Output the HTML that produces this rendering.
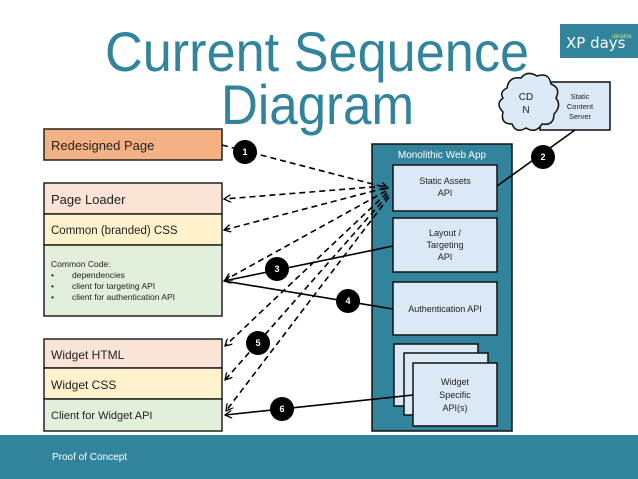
<!DOCTYPE html>
<html><head><meta charset="utf-8"><style>body{margin:0;width:638px;height:479px;overflow:hidden;background:#fff}svg{display:block}</style></head><body>
<svg width="638" height="479" viewBox="0 0 638 479" xmlns="http://www.w3.org/2000/svg" font-family="Liberation Sans, sans-serif">
<defs><marker id="a" markerWidth="8" markerHeight="8" refX="7" refY="4" orient="auto" markerUnits="userSpaceOnUse"><path d="M0,0 L7,4 L0,8" fill="none" stroke="#000" stroke-width="1.3"/></marker></defs>
<text x="105" y="71" font-size="56" fill="#31849b" textLength="424" lengthAdjust="spacingAndGlyphs">Current Sequence</text>
<text x="221" y="124" font-size="56" fill="#31849b" textLength="193" lengthAdjust="spacingAndGlyphs">Diagram</text>
<rect x="560" y="24" width="78" height="34" fill="#31849b"/>
<text x="566" y="48" font-size="15" fill="#fff" font-family="DejaVu Sans, sans-serif">XP days</text>
<text x="612" y="38" font-size="6" fill="#cfe27a">ukraine</text>
<rect x="44" y="129" width="178" height="31" fill="#f4b183" stroke="#222" stroke-width="1.5"/>
<text x="51" y="150" font-size="13" fill="#222">Redesigned Page</text>
<rect x="44" y="183" width="178" height="31" fill="#fbe3d6" stroke="#222" stroke-width="1.5"/>
<text x="51" y="204" font-size="13" fill="#222">Page Loader</text>
<rect x="44" y="214" width="178" height="31" fill="#fff2cc" stroke="#222" stroke-width="1.5"/>
<text x="51" y="234" font-size="11.5" fill="#222">Common (branded) CSS</text>
<rect x="44" y="245" width="178" height="71" fill="#e2efda" stroke="#222" stroke-width="1.5"/>
<g font-size="8.5" fill="#222"><text x="51" y="267">Common Code:</text><text x="51" y="278">•</text><text x="72" y="278">dependencies</text><text x="51" y="289">•</text><text x="72" y="289">client for targeting API</text><text x="51" y="300">•</text><text x="72" y="300">client for authentication API</text></g>
<rect x="44" y="339" width="178" height="29" fill="#fbe3d6" stroke="#222" stroke-width="1.5"/>
<text x="51" y="359" font-size="12" fill="#222">Widget HTML</text>
<rect x="44" y="368" width="178" height="31" fill="#fff2cc" stroke="#222" stroke-width="1.5"/>
<text x="51" y="389" font-size="12" fill="#222">Widget CSS</text>
<rect x="44" y="399" width="178" height="32" fill="#e2efda" stroke="#222" stroke-width="1.5"/>
<text x="51" y="419" font-size="11" fill="#222">Client for Widget API</text>
<rect x="372" y="144" width="140" height="287" fill="#31849b" stroke="#111" stroke-width="1.5"/>
<text x="442" y="158" font-size="10" fill="#fff" text-anchor="middle">Monolithic Web App</text>
<g fill="#dbe8f5" stroke="#111" stroke-width="1.5">
<rect x="393" y="165" width="104" height="46"/><rect x="393" y="218" width="104" height="54"/><rect x="393" y="282" width="104" height="53"/>
<rect x="394" y="344" width="84" height="62"/><rect x="404" y="353" width="84" height="62"/><rect x="413" y="363" width="84" height="63"/></g>
<g font-size="9" fill="#222" text-anchor="middle"><text x="445" y="184">Static Assets</text><text x="445" y="196">API</text>
<text x="445" y="236">Layout /</text><text x="445" y="248">Targeting</text><text x="445" y="260">API</text>
<text x="445" y="312">Authentication API</text>
<text x="455" y="385">Widget</text><text x="455" y="398">Specific</text><text x="455" y="411">API(s)</text></g>
<rect x="540" y="82" width="70" height="48" fill="#dbe8f5" stroke="#111" stroke-width="1.5"/>
<g font-size="7.5" fill="#222" text-anchor="middle"><text x="580" y="99">Static</text><text x="580" y="109">Content</text><text x="580" y="119">Server</text></g>
<path d="M507,88 q2,-12 14,-10 q6,-8 16,-2 q12,-4 14,8 q10,4 5,14 q6,8 -2,16 q0,12 -12,10 q-6,10 -16,4 q-10,6 -14,-4 q-12,0 -9,-12 q-8,-8 0,-14 q-4,-6 4,-10z" fill="#dbe8f5" stroke="#111" stroke-width="1.5"/>
<text x="526" y="100" font-size="10" fill="#222" text-anchor="middle">CD</text><text x="526" y="113" font-size="10" fill="#222" text-anchor="middle">N</text>
<g stroke="#000" stroke-width="1.6" fill="none" stroke-dasharray="6,4">
<line x1="222" y1="145" x2="388" y2="188" marker-end="url(#a)"/>
<line x1="385" y1="186" x2="224" y2="199" marker-end="url(#a)"/>
<line x1="385" y1="188" x2="224" y2="230" marker-end="url(#a)"/>
<line x1="386" y1="191" x2="225" y2="280" marker-end="url(#a)"/>
<line x1="387" y1="193" x2="225" y2="346" marker-end="url(#a)"/>
<line x1="388" y1="195" x2="225" y2="380" marker-end="url(#a)"/>
<line x1="389" y1="197" x2="226" y2="411" marker-end="url(#a)"/>
</g>
<g stroke="#000" stroke-width="1.6" fill="none">
<line x1="393" y1="246" x2="224" y2="281" marker-end="url(#a)"/>
<line x1="224" y1="281" x2="393" y2="309"/>
<line x1="413" y1="395" x2="225" y2="415" marker-end="url(#a)"/>
<line x1="497" y1="186" x2="575" y2="130"/>
</g>
<g fill="#000"><circle cx="245" cy="152" r="12"/><circle cx="543" cy="157" r="12"/><circle cx="277" cy="269" r="12"/><circle cx="348" cy="301" r="12"/><circle cx="258" cy="343" r="12"/><circle cx="282" cy="409" r="12"/></g>
<g fill="#fff" font-size="9" font-weight="bold" text-anchor="middle"><text x="245" y="155">1</text><text x="543" y="160">2</text><text x="277" y="272">3</text><text x="348" y="304">4</text><text x="258" y="346">5</text><text x="282" y="412">6</text></g>
<rect x="0" y="435" width="638" height="44" fill="#31849b"/>
<text x="52" y="460" font-size="10" fill="#fff">Proof of Concept</text>
</svg>
</body></html>
